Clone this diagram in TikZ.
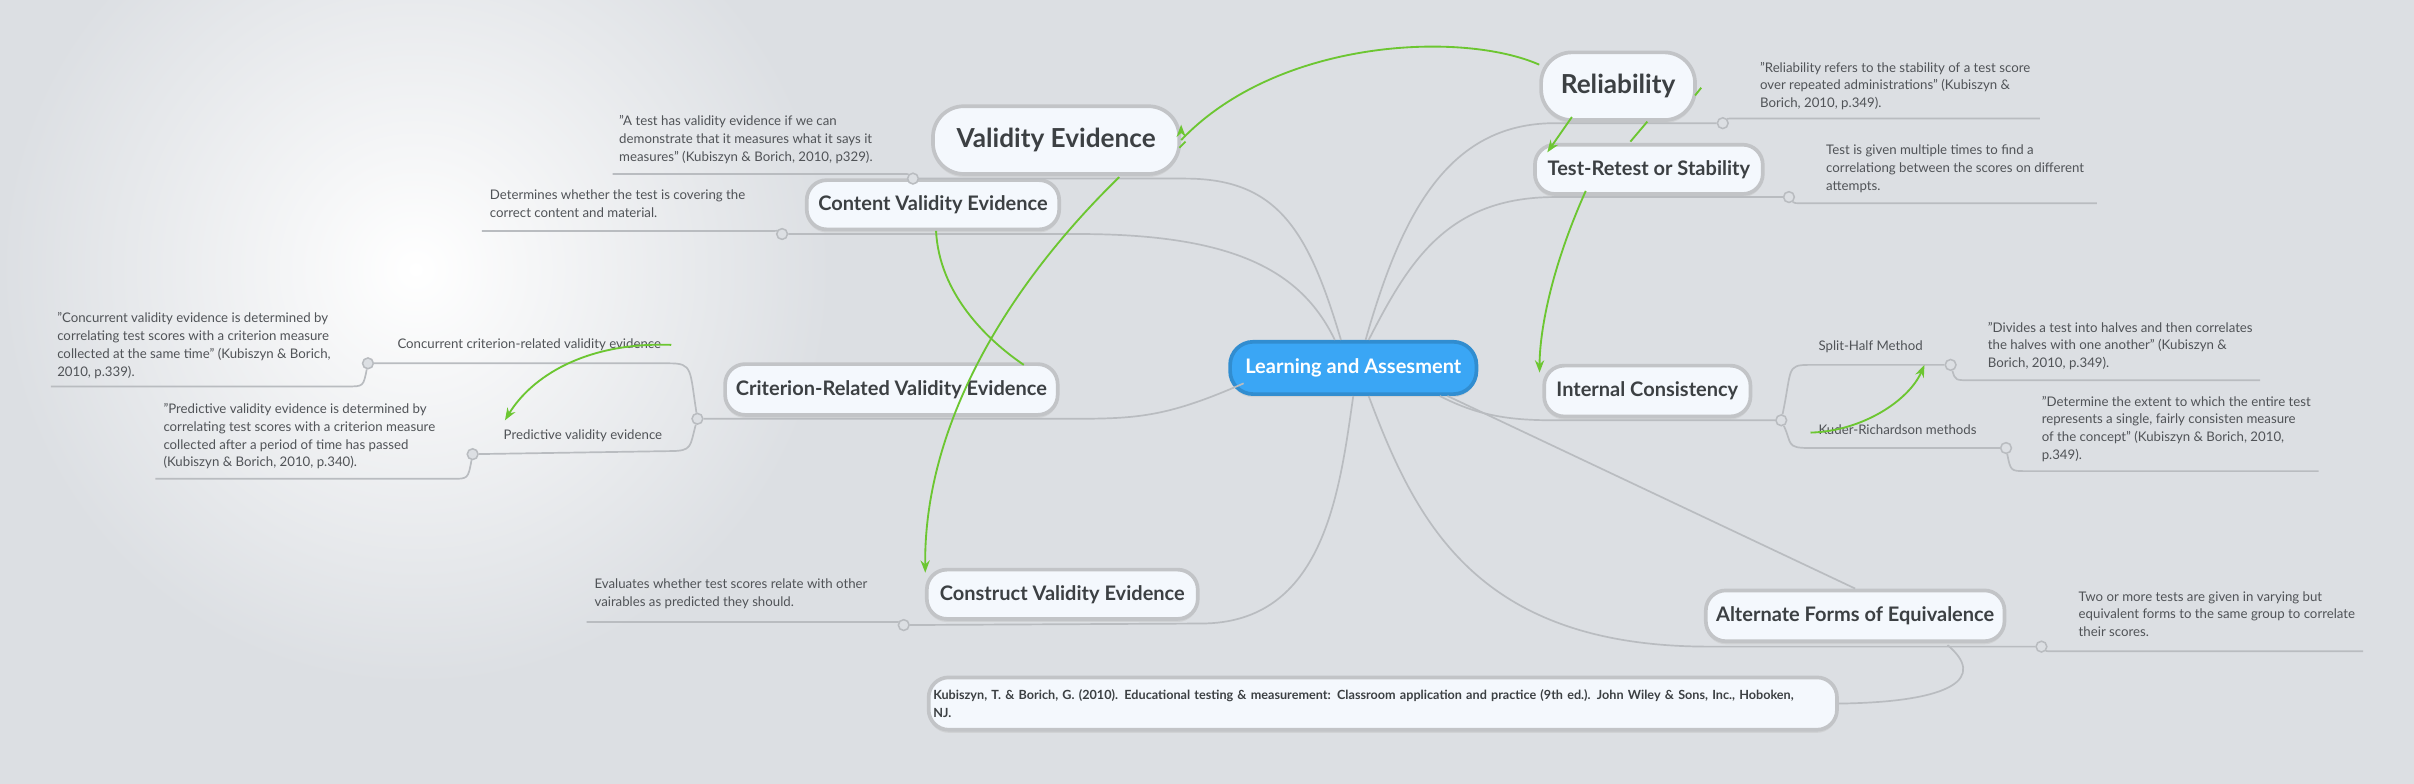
\documentclass[tikz,border=0pt]{standalone}
\usepackage{fontspec}
\setmainfont{Lato}
\usetikzlibrary{arrows.meta,shadows}
\definecolor{bg}{HTML}{DCDFE3}
\definecolor{ln}{HTML}{B9BCC0}
\definecolor{bd}{HTML}{C2C4C7}
\definecolor{nf}{HTML}{F4F8FD}
\definecolor{tx}{HTML}{3C4043}
\definecolor{nt}{HTML}{505357}
\definecolor{gr}{HTML}{6CC631}
\definecolor{bl}{HTML}{3AA6F5}
\tikzset{
 topic/.style={draw=bd,line width=2.4pt,fill=nf,rounded corners=13pt,text=tx,font=\bfseries\fontsize{13}{15}\selectfont,inner sep=0pt,align=center,drop shadow={shadow xshift=0pt,shadow yshift=-2pt,fill=black!25,opacity=.4}},
 note/.style={text=nt,font=\fontsize{8.6}{11.5}\selectfont,align=left,anchor=north west,inner sep=0pt},
 sub/.style={text=nt,font=\fontsize{8.6}{11}\selectfont,inner sep=0pt,anchor=west},
 br/.style={draw=ln,line width=1.1pt},
 knob/.style={circle,draw=ln,fill=bg,line width=1pt,minimum size=7pt,inner sep=0pt},
 rel/.style={draw=gr,line width=1.2pt},
 rela/.style={rel,-{Stealth[length=8pt,width=6pt]}}
}
\begin{document}
\begin{tikzpicture}[x=1pt,y=-1pt]
\useasboundingbox (0,0) rectangle (1568,509);
\fill[bg] (0,0) rectangle (1568,509);
\begin{scope}
\clip (0,0) rectangle (1568,509);
\shade[inner color=white,outer color=bg] (270,175) circle (270);
\end{scope}

% central node
\node[topic,fill=bl,draw=bl!85!black,text=white,minimum width=160pt,minimum height=34pt,rounded corners=15pt] (C) at (879,239) {Learning and Assesment};

% topics
\node[topic,minimum width=160pt,minimum height=44pt,rounded corners=20pt,font=\bfseries\fontsize{17}{20}\selectfont] (V) at (686,91) {Validity Evidence};
\node[topic,minimum width=100pt,minimum height=44pt,rounded corners=20pt,font=\bfseries\fontsize{17}{20}\selectfont] (R) at (1051,56) {Reliability};
\node[topic,minimum width=164pt,minimum height=32pt] (CV) at (606,133) {Content Validity Evidence};
\node[topic,minimum width=148pt,minimum height=32pt] (TR) at (1071,110) {Test-Retest or Stability};
\node[topic,minimum width=216pt,minimum height=33pt] (CR) at (579,253) {Criterion-Related Validity Evidence};
\node[topic,minimum width=134pt,minimum height=33pt] (IC) at (1070,254) {Internal Consistency};
\node[topic,minimum width=176pt,minimum height=32pt] (CO) at (690,386) {Construct Validity Evidence};
\node[topic,minimum width=194pt,minimum height=33pt] (AF) at (1205,400) {Alternate Forms of Equivalence};
\node[topic,minimum width=590pt,minimum height=34pt,anchor=west,align=left,text width=584pt,font=\bfseries\fontsize{8.2}{11.5}\selectfont] (REF) at (602,457) {\mbox{Kubiszyn, T. \& Borich, G. (2010). Educational testing \& measurement: Classroom application and practice (9th ed.). John Wiley \& Sons, Inc., Hoboken,}\\NJ.};

% knobs
\node[knob] (kV) at (593,116) {};
\node[knob] (kCV) at (508,152) {};
\node[knob] (kCR) at (453,272) {};
\node[knob] (kCc) at (239,236) {};
\node[knob] (kCp) at (307,295) {};
\node[knob] (kCO) at (587,406) {};
\node[knob] (kR) at (1119,80) {};
\node[knob] (kTR) at (1162,128) {};
\node[knob] (kIC) at (1157,273) {};
\node[knob] (kSH) at (1267,237) {};
\node[knob] (kKR) at (1303,291) {};
\node[knob] (kAF) at (1326,420) {};

% branches from center
\draw[br] (C.north) ++(-8,0) .. controls (850,150) and (830,116) .. (770,116) -- (kV);
\draw[br] (C.north) ++(-12,0) .. controls (845,175) and (800,152) .. (700,152) -- (kCV);
\draw[br] (C.west) ++(10,10) .. controls (760,270) and (740,272) .. (700,272) -- (kCR);
\draw[br] (C.south) .. controls (870,320) and (860,405) .. (780,405) -- (kCO);
\draw[br] (C.north) ++(8,0) .. controls (910,140) and (940,80) .. (1010,80) -- (kR);
\draw[br] (C.north) ++(10,0) .. controls (915,170) and (940,128) .. (1010,128) -- (kTR);
\draw[br] (C.south east) ++(-25,0) .. controls (960,270) and (980,273) .. (1010,273) -- (kIC);
\draw[br] (C.south) ++(10,0) .. controls (920,340) and (960,420) .. (1110,420) -- (kAF);
\draw[br] (C.south east) ++(-20,0) -- (AF.north);
\draw[br] (1265,419) .. controls (1290,440) and (1270,456) .. (REF.east);

% sub-branches
\draw[br] (kCR) .. controls (448,240) and (450,236) .. (435,236) -- (kCc);
\draw[br] (kCR) .. controls (448,290) and (450,293) .. (435,293) -- (kCp);
\draw[br] (kIC) .. controls (1164,240) and (1160,237) .. (1175,237) -- (kSH);
\draw[br] (kIC) .. controls (1164,288) and (1160,291) .. (1175,291) -- (kKR);

% note underlines
\draw[br] (kV) .. controls (590,113) .. (580,113) -- (398,113);
\draw[br] (kCV) .. controls (505,150) .. (495,150) -- (313,150);
\draw[br] (kCc) .. controls (236,251) .. (226,251) -- (33,251);
\draw[br] (kCp) .. controls (304,311) .. (294,311) -- (101,311);
\draw[br] (kCO) .. controls (584,404) .. (574,404) -- (381,404);
\draw[br] (kR) .. controls (1122,77) .. (1132,77) -- (1325,77);
\draw[br] (kTR) .. controls (1165,132) .. (1175,132) -- (1362,132);
\draw[br] (kSH) .. controls (1270,247) .. (1280,247) -- (1468,247);
\draw[br] (kKR) .. controls (1306,306) .. (1316,306) -- (1506,306);
\draw[br] (kAF) .. controls (1329,423) .. (1339,423) -- (1535,423);

% notes
\node[note] (nV) at (402,75) {"A test has validity evidence if we can\\demonstrate that it measures what it says it\\measures" (Kubiszyn \& Borich, 2010, p329).};
\node[note] (nCV) at (318,123) {Determines whether the test is covering the\\correct content and material.};
\node[note] (nCc) at (37,203) {"Concurrent validity evidence is determined by\\correlating test scores with a criterion measure\\collected at the same time" (Kubiszyn \& Borich,\\2010, p.339).};
\node[note] (nCp) at (106,262) {"Predictive validity evidence is determined by\\correlating test scores with a criterion measure\\collected after a period of time has passed\\(Kubiszyn \& Borich, 2010, p.340).};
\node[note] (nCO) at (386,376) {Evaluates whether test scores relate with other\\vairables as predicted they should.};
\node[note] (nR) at (1143,40) {"Reliability refers to the stability of a test score\\over repeated administrations" (Kubiszyn \&\\Borich, 2010, p.349).};
\node[note] (nTR) at (1186,94) {Test is given multiple times to find a\\correlationg between the scores on different\\attempts.};
\node[note] (nSH) at (1291,209) {"Divides a test into halves and then correlates\\the halves with one another" (Kubiszyn \&\\Borich, 2010, p.349).};
\node[note] (nKR) at (1326,257) {"Determine the extent to which the entire test\\represents a single, fairly consisten measure\\of the concept" (Kubiszyn \& Borich, 2010,\\p.349).};
\node[note] (nAF) at (1350,384) {Two or more tests are given in varying but\\equivalent forms to the same group to correlate\\their scores.};
\node[sub] (lCc) at (258,224) {Concurrent criterion-related validity evidence};
\node[sub] (lCp) at (327,283) {Predictive validity evidence};
\node[sub] (lSH) at (1181,225) {Split-Half Method};
\node[sub] (lKR) at (1181,279) {Kuder-Richardson methods};

% relationships
\draw[rela] (R.west) ++(0,-14) .. controls (950,20) and (830,25) .. (V.east) ++(0,-10);
\draw[rela] (1021,76) -- (1005,99);
\draw[rel] (1070,79) -- (1059,92);
\draw[rela] (1030,124) .. controls (1005,180) and (1000,220) .. (1000,242);
\draw[rela] (727,115) .. controls (650,190) and (600,280) .. (601,372);
\draw[rel] (608,150) .. controls (610,190) and (640,220) .. (665,237);
\draw[rela] (436,224) .. controls (380,222) and (345,245) .. (328,273);
\draw[rela] (1176,281) .. controls (1210,280) and (1240,260) .. (1250,237);
\draw[rel] (1101,62) -- (1105,57);
\draw[rel] (766,96) -- (770,92);
\end{tikzpicture}
\end{document}
